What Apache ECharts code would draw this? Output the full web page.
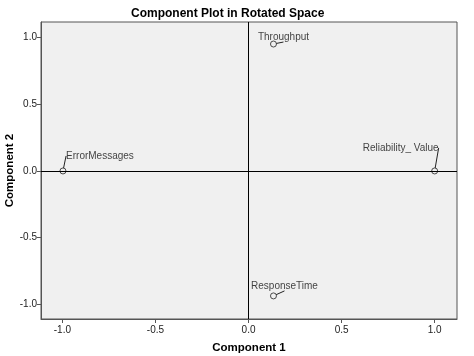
<!DOCTYPE html>
<html><head><meta charset="utf-8">
<script src="https://cdn.jsdelivr.net/npm/echarts@6/dist/echarts.min.js"></script>
<style>html,body{margin:0;padding:0;background:#fff}#c{width:474px;height:356px}</style>
</head><body><div id="c"></div>
<script>
var names = ['Throughput', 'ErrorMessages', 'Reliability_ Value', 'ResponseTime'];
var comp1 = [0.134, -0.997, 1.0, 0.134];
var comp2 = [0.951, 0.0, 0.0, -0.936];
var tickValues = [-1.0, -0.5, 0.0, 0.5, 1.0];
var labelOffsets = [[10, -7], [37, -15], [-34, -23], [11, -10]];

var chart = echarts.init(document.getElementById('c'));
var font = '"Liberation Sans", Arial, sans-serif';
var data = names.map(function (n, i) { return { name: n, value: [comp1[i], comp2[i]] }; });
chart.setOption({
  animation: false,
  backgroundColor: '#fff',
  title: {
    text: 'Component Plot in Rotated Space', left: 126, top: 3,
    textStyle: { fontFamily: font, fontSize: 12, fontWeight: 'bold', color: '#000' }
  },
  grid: { left: 41, right: 17, top: 22, bottom: 37, containLabel: false, outerBoundsMode: 'none', show: true, backgroundColor: '#f0f0f0', borderColor: '#555', borderWidth: 1 },
  xAxis: {
    type: 'value', min: -1.115, max: 1.12,
    name: 'Component 1', nameLocation: 'middle', nameGap: 23, nameMoveOverlap: false,
    nameTextStyle: { fontFamily: font, fontSize: 11.5, fontWeight: 'bold', color: '#000' },
    axisLine: { show: true, onZero: false, lineStyle: { color: '#555' } },
    axisTick: { show: true, length: 4, lineStyle: { color: '#555' }, customValues: tickValues },
    axisLabel: { fontFamily: font, fontSize: 10, color: '#222', margin: 6, customValues: tickValues, formatter: function (v) { return v.toFixed(1); } },
    splitLine: { show: false }
  },
  yAxis: {
    type: 'value', min: -1.109, max: 1.116,
    name: 'Component 2', nameLocation: 'middle', nameGap: 25, nameRotate: 90, nameMoveOverlap: false,
    nameTextStyle: { fontFamily: font, fontSize: 11.5, fontWeight: 'bold', color: '#000' },
    axisLine: { show: true, onZero: false, lineStyle: { color: '#555' } },
    axisTick: { show: true, length: 4, lineStyle: { color: '#555' }, customValues: tickValues },
    axisLabel: { fontFamily: font, fontSize: 10, color: '#222', margin: 4, customValues: tickValues, formatter: function (v) { return v.toFixed(1); } },
    splitLine: { show: false }
  },
  series: [{
    type: 'scatter',
    data: data,
    symbol: 'circle', symbolSize: 6,
    itemStyle: { color: 'rgba(0,0,0,0)', borderColor: '#222', borderWidth: 1 },
    label: { show: true, position: 'inside', formatter: '{b}', fontFamily: font, fontSize: 10, color: '#111' },
    labelLine: { show: true, lineStyle: { color: '#222', width: 1 } },
    labelLayout: function (p) { var o = labelOffsets[p.dataIndex]; return { dx: o[0], dy: o[1] }; },
    markLine: {
      silent: true, symbol: 'none', label: { show: false },
      lineStyle: { color: '#000', width: 1, type: 'solid' },
      data: [{ xAxis: 0 }, { yAxis: 0 }]
    }
  }]
});
</script></body></html>
